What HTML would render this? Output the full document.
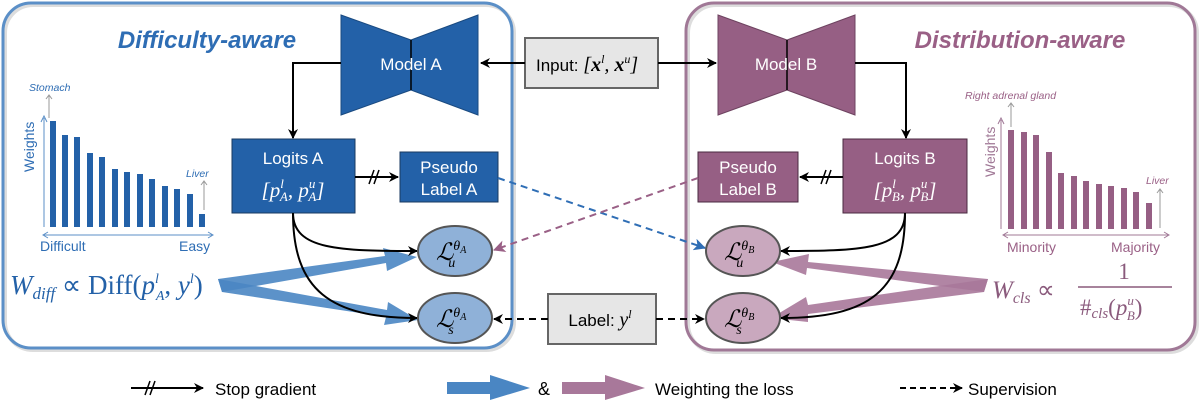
<!DOCTYPE html>
<html><head><meta charset="utf-8"><style>
body{margin:0;background:#fff;}
</style></head><body>
<svg width="1200" height="405" viewBox="0 0 1200 405" xmlns="http://www.w3.org/2000/svg" font-family="Liberation Sans, sans-serif">
<defs>
<marker id="ab" markerWidth="10" markerHeight="10" refX="9" refY="5" orient="auto" markerUnits="userSpaceOnUse"><path d="M0,0 L10,5 L0,10 L3,5 z" fill="#000"/></marker>
<marker id="abl" markerWidth="12" markerHeight="12" refX="11" refY="6" orient="auto" markerUnits="userSpaceOnUse"><path d="M0,0 L12,6 L0,12 L3,6 z" fill="#2f6eb5"/></marker>
<marker id="apu" markerWidth="12" markerHeight="12" refX="11" refY="6" orient="auto" markerUnits="userSpaceOnUse"><path d="M0,0 L12,6 L0,12 L3,6 z" fill="#9a6086"/></marker>
</defs>
<rect x="5" y="5" width="509" height="345" rx="28" fill="none" stroke="#ddd" stroke-width="4"/>
<rect x="3" y="3" width="509" height="345" rx="28" fill="none" stroke="#5b8fc7" stroke-width="3"/>
<rect x="688" y="5" width="509" height="347" rx="28" fill="none" stroke="#ddd" stroke-width="4"/>
<rect x="686" y="3" width="509" height="347" rx="28" fill="none" stroke="#a07896" stroke-width="3"/>
<text x="207" y="48" text-anchor="middle" font-size="24" font-weight="bold" font-style="italic" fill="#2e6db4">Difficulty-aware</text>
<text x="1020" y="48" text-anchor="middle" font-size="24" font-weight="bold" font-style="italic" fill="#9a6086">Distribution-aware</text>
<polygon points="341,15 411,40 411,90 341,115" fill="#2361a8" stroke="#1a4a80" stroke-width="1"/>
<polygon points="478,15 411,40 411,90 478,115" fill="#2361a8" stroke="#1a4a80" stroke-width="1"/>
<line x1="411" y1="40" x2="411" y2="90" stroke="#000" stroke-width="1.5"/>
<text x="411" y="70" text-anchor="middle" font-size="17" fill="#fff">Model A</text>
<polygon points="718,15 787,40 787,90 718,115" fill="#965f84" stroke="#6e4360" stroke-width="1"/>
<polygon points="855,15 787,40 787,90 855,115" fill="#965f84" stroke="#6e4360" stroke-width="1"/>
<line x1="787" y1="40" x2="787" y2="90" stroke="#000" stroke-width="1.5"/>
<text x="786" y="70" text-anchor="middle" font-size="17" fill="#fff">Model B</text>
<rect x="525" y="38" width="133" height="50" fill="#e6e6e6" stroke="#666" stroke-width="2"/>
<text x="536" y="71" font-size="17">Input: <tspan style="font-family:'Liberation Serif',serif;font-style:italic" font-size="20">[<tspan font-weight="bold">x</tspan><tspan font-size="12" dy="-8">l</tspan><tspan dy="8">, </tspan><tspan font-weight="bold">x</tspan><tspan font-size="12" dy="-8">u</tspan><tspan dy="8">]</tspan></tspan></text>
<line x1="525" y1="63" x2="481" y2="63" stroke="#000" stroke-width="2" marker-end="url(#ab)"/>
<line x1="658" y1="63" x2="716" y2="63" stroke="#000" stroke-width="2" marker-end="url(#ab)"/>
<polyline points="341,63 293,63 293,138" fill="none" stroke="#000" stroke-width="2" marker-end="url(#ab)"/>
<polyline points="855,63 906,63 906,138" fill="none" stroke="#000" stroke-width="2" marker-end="url(#ab)"/>
<rect x="232" y="139" width="123" height="74" fill="#2361a8" stroke="#1a3a60" stroke-width="1"/>
<text x="293" y="164" text-anchor="middle" font-size="17" fill="#fff">Logits A</text>
<text x="293" y="197" text-anchor="middle" font-size="21" fill="#fff" style="font-family:'Liberation Serif',serif;font-style:italic">[p<tspan font-size="13" dy="-9">l</tspan><tspan font-size="13" dx="-4" dy="13">A</tspan><tspan dy="-4">, p</tspan><tspan font-size="13" dy="-9">u</tspan><tspan font-size="13" dx="-7" dy="13">A</tspan><tspan dy="-4">]</tspan></text>
<rect x="400" y="152" width="98" height="50" fill="#2361a8" stroke="#1a3a60" stroke-width="1"/>
<text x="449" y="173" text-anchor="middle" font-size="17" fill="#fff">Pseudo</text>
<text x="449" y="195" text-anchor="middle" font-size="17" fill="#fff">Label A</text>
<line x1="355" y1="177" x2="398" y2="177" stroke="#000" stroke-width="2" marker-end="url(#ab)"/>
<path d="M369,184 L374,170 M374,184 L379,170" stroke="#000" stroke-width="1.5"/>
<rect x="843" y="139" width="124" height="74" fill="#965f84" stroke="#4a2a40" stroke-width="1"/>
<text x="905" y="164" text-anchor="middle" font-size="17" fill="#fff">Logits B</text>
<text x="905" y="197" text-anchor="middle" font-size="21" fill="#fff" style="font-family:'Liberation Serif',serif;font-style:italic">[p<tspan font-size="13" dy="-9">l</tspan><tspan font-size="13" dx="-4" dy="13">B</tspan><tspan dy="-4">, p</tspan><tspan font-size="13" dy="-9">u</tspan><tspan font-size="13" dx="-7" dy="13">B</tspan><tspan dy="-4">]</tspan></text>
<rect x="698" y="152" width="100" height="50" fill="#965f84" stroke="#4a2a40" stroke-width="1"/>
<text x="748" y="173" text-anchor="middle" font-size="17" fill="#fff">Pseudo</text>
<text x="748" y="195" text-anchor="middle" font-size="17" fill="#fff">Label B</text>
<line x1="843" y1="177" x2="800" y2="177" stroke="#000" stroke-width="2" marker-end="url(#ab)"/>
<path d="M821,184 L826,170 M826,184 L831,170" stroke="#000" stroke-width="1.5"/>
<line x1="498" y1="178" x2="705" y2="248" stroke="#2f6eb5" stroke-width="2" stroke-dasharray="7,5" marker-end="url(#abl)"/>
<line x1="698" y1="178" x2="494" y2="250" stroke="#9a6086" stroke-width="2" stroke-dasharray="7,5" marker-end="url(#apu)"/>
<polygon points="218,279 385,256 383,248 417,257 387,271 386,263 222,292" fill="#4a86c3" opacity="0.9"/>
<polygon points="218,279 387,310 388,302 418,320 384,325 386,317 222,292" fill="#4a86c3" opacity="0.9"/>
<polygon points="988,279 808,262 809,254 772,262 806,275 807,268 984,292" fill="#a8789a" opacity="0.9"/>
<polygon points="988,279 808,305 806,297 771,318 808,322 808,314 984,292" fill="#a8789a" opacity="0.9"/>
<path d="M293,213 C293,250 340,251 417,251" fill="none" stroke="#000" stroke-width="2" marker-end="url(#ab)"/>
<path d="M293,213 C293,290 330,318 417,318" fill="none" stroke="#000" stroke-width="2" marker-end="url(#ab)"/>
<path d="M905,213 C905,250 860,251 781,251" fill="none" stroke="#000" stroke-width="2" marker-end="url(#ab)"/>
<path d="M905,213 C905,290 870,318 781,318" fill="none" stroke="#000" stroke-width="2" marker-end="url(#ab)"/>
<ellipse cx="455" cy="251" rx="37" ry="25" fill="#8fb1d8" stroke="#555" stroke-width="2"/>
<ellipse cx="455" cy="318" rx="37" ry="25" fill="#8fb1d8" stroke="#555" stroke-width="2"/>
<ellipse cx="743" cy="251" rx="37" ry="25" fill="#c9a8be" stroke="#555" stroke-width="2"/>
<ellipse cx="743" cy="318" rx="37" ry="25" fill="#c9a8be" stroke="#555" stroke-width="2"/>
<g style="font-family:'Liberation Serif',serif;font-style:italic">
<text x="436" y="260" font-size="24">ℒ<tspan font-size="14" dy="-10">θ</tspan><tspan font-size="10" dy="3">A</tspan><tspan font-size="14" dx="-18" dy="14">u</tspan></text>
<text x="436" y="327" font-size="24">ℒ<tspan font-size="14" dy="-10">θ</tspan><tspan font-size="10" dy="3">A</tspan><tspan font-size="14" dx="-18" dy="14">s</tspan></text>
<text x="724" y="260" font-size="24">ℒ<tspan font-size="14" dy="-10">θ</tspan><tspan font-size="10" dy="3">B</tspan><tspan font-size="14" dx="-18" dy="14">u</tspan></text>
<text x="724" y="327" font-size="24">ℒ<tspan font-size="14" dy="-10">θ</tspan><tspan font-size="10" dy="3">B</tspan><tspan font-size="14" dx="-18" dy="14">s</tspan></text>
</g>
<rect x="548" y="294" width="108" height="50" fill="#e6e6e6" stroke="#666" stroke-width="2"/>
<text x="600" y="326" text-anchor="middle" font-size="17">Label: <tspan style="font-family:'Liberation Serif',serif;font-style:italic" font-size="20">y</tspan><tspan style="font-family:'Liberation Serif',serif;font-style:italic" font-size="12" dy="-8">l</tspan></text>
<line x1="548" y1="319" x2="494" y2="319" stroke="#000" stroke-width="2" stroke-dasharray="7,5" marker-end="url(#ab)"/>
<line x1="656" y1="319" x2="704" y2="319" stroke="#000" stroke-width="2" stroke-dasharray="7,5" marker-end="url(#ab)"/>
<text x="10" y="294" style="font-family:'Liberation Serif',serif" font-size="27" fill="#2361a8"><tspan font-style="italic">W</tspan><tspan font-style="italic" font-size="17" dy="5">diff</tspan><tspan dy="-5"> ∝ Diff(</tspan><tspan font-style="italic">p</tspan><tspan font-style="italic" font-size="14" dy="-11">l</tspan><tspan font-style="italic" font-size="14" dx="-3" dy="17">A</tspan><tspan dy="-6">, </tspan><tspan font-style="italic">y</tspan><tspan font-style="italic" font-size="14" dy="-11">l</tspan><tspan dy="11">)</tspan></text>
<text x="992" y="298" style="font-family:'Liberation Serif',serif" font-size="25" fill="#8a5a7c"><tspan font-style="italic">W</tspan><tspan font-style="italic" font-size="16" dy="5">cls</tspan><tspan dy="-5"> ∝</tspan></text>
<text x="1124" y="279" text-anchor="middle" style="font-family:'Liberation Serif',serif" font-size="23" fill="#8a5a7c">1</text>
<line x1="1078" y1="287" x2="1172" y2="287" stroke="#8a5a7c" stroke-width="1.5"/>
<text x="1080" y="315" style="font-family:'Liberation Serif',serif" font-size="23" fill="#8a5a7c">#<tspan font-style="italic" font-size="15" dy="3">cls</tspan><tspan dy="-3">(</tspan><tspan font-style="italic">p</tspan><tspan font-style="italic" font-size="13" dy="-10">u</tspan><tspan font-style="italic" font-size="13" dx="-7" dy="15">B</tspan><tspan dy="-5">)</tspan></text>
<g fill="#2361a8">
<rect x="50" y="121" width="6" height="106"/><rect x="62" y="135" width="6" height="92"/><rect x="74" y="137" width="6" height="90"/><rect x="87" y="153" width="6" height="74"/><rect x="99" y="157" width="6" height="70"/><rect x="112" y="169" width="6" height="58"/><rect x="124" y="172" width="6" height="55"/><rect x="137" y="174" width="6" height="53"/><rect x="149" y="179" width="6" height="48"/><rect x="162" y="186" width="6" height="41"/><rect x="174" y="189" width="6" height="38"/><rect x="187" y="194" width="6" height="33"/><rect x="199" y="214" width="6" height="13"/>
</g>
<line x1="44" y1="227" x2="44" y2="118" stroke="#5b8fc7" stroke-width="1"/>
<path d="M41,122 L44,116 L47,122" fill="none" stroke="#5b8fc7"/>
<line x1="44" y1="235" x2="212" y2="235" stroke="#5b8fc7" stroke-width="1"/>
<path d="M48,232 L43,235 L48,238 M208,232 L213,235 L208,238" fill="none" stroke="#5b8fc7"/>
<line x1="204" y1="210" x2="204" y2="182" stroke="#999"/><path d="M201,185 L204,181 L207,185" fill="none" stroke="#999"/>
<line x1="49" y1="118" x2="49" y2="96" stroke="#999"/><path d="M46,99 L49,95 L52,99" fill="none" stroke="#999"/>
<text x="29" y="91" font-size="10.5" font-style="italic" fill="#2e6db4">Stomach</text>
<text x="186" y="177" font-size="10.5" font-style="italic" fill="#2e6db4">Liver</text>
<text transform="translate(34,172) rotate(-90)" font-size="14" fill="#2e6db4">Weights</text>
<text x="40" y="251" font-size="14" fill="#2e6db4">Difficult</text>
<text x="179" y="251" font-size="14" fill="#2e6db4">Easy</text>
<g fill="#965f84">
<rect x="1008" y="130" width="6" height="99"/><rect x="1021" y="132" width="6" height="97"/><rect x="1033" y="135" width="6" height="94"/><rect x="1046" y="152" width="6" height="77"/><rect x="1058" y="173" width="6" height="56"/><rect x="1071" y="176" width="6" height="53"/><rect x="1083" y="181" width="6" height="48"/><rect x="1096" y="184" width="6" height="45"/><rect x="1108" y="186" width="6" height="43"/><rect x="1121" y="188" width="6" height="41"/><rect x="1133" y="192" width="6" height="37"/><rect x="1146" y="203" width="6" height="26"/>
</g>
<line x1="1001" y1="229" x2="1001" y2="120" stroke="#a07896"/>
<path d="M998,124 L1001,118 L1004,124" fill="none" stroke="#a07896"/>
<line x1="1004" y1="235" x2="1168" y2="235" stroke="#a07896"/>
<path d="M1008,232 L1003,235 L1008,238 M1164,232 L1169,235 L1164,238" fill="none" stroke="#a07896"/>
<line x1="1011" y1="127" x2="1011" y2="104" stroke="#999"/><path d="M1008,107 L1011,103 L1014,107" fill="none" stroke="#999"/>
<line x1="1160" y1="228" x2="1160" y2="190" stroke="#999"/><path d="M1157,193 L1160,189 L1163,193" fill="none" stroke="#999"/>
<text x="965" y="99" font-size="10.5" font-style="italic" fill="#9a6086">Right adrenal gland</text>
<text x="1146" y="184" font-size="10.5" font-style="italic" fill="#9a6086">Liver</text>
<text transform="translate(995,177) rotate(-90)" font-size="14" fill="#a07896">Weights</text>
<text x="1007" y="252" font-size="14" fill="#9a6086">Minority</text>
<text x="1111" y="252" font-size="14" fill="#9a6086">Majority</text>
<line x1="131" y1="388" x2="203" y2="388" stroke="#000" stroke-width="2" marker-end="url(#ab)"/>
<path d="M145,395 L150,381 M150,395 L155,381" stroke="#000" stroke-width="1.5"/>
<text x="215" y="395" font-size="17">Stop gradient</text>
<polygon points="447,382 490,382 490,375 530,388 490,400 490,394 447,394" fill="#4a86c3"/>
<text x="538" y="395" font-size="18">&amp;</text>
<polygon points="562,382 605,382 605,375 645,388 605,400 605,394 562,394" fill="#a8789a"/>
<text x="655" y="395" font-size="17">Weighting the loss</text>
<line x1="900" y1="388" x2="962" y2="388" stroke="#000" stroke-width="2" stroke-dasharray="6,4" marker-end="url(#ab)"/>
<text x="968" y="395" font-size="17">Supervision</text>
</svg>
</body></html>
